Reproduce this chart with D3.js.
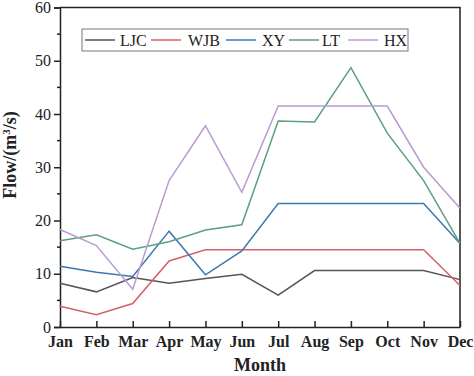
<!DOCTYPE html>
<html lang="en">
<head>
<meta charset="UTF-8">
<title>Monthly flow</title>
<script src="https://d3js.org/d3.v7.min.js"></script>
<style>
    body { margin: 0; background: #fff; }
    text { font-family: "Liberation Serif", "Times New Roman", serif; }
    .tick text { font-weight: bold; font-size: 16px; fill: #222; }
    .y-axis .tick text { font-weight: normal; font-size: 16px; }
    .axis-title { font-weight: bold; font-size: 18px; fill: #222; }
    .legend text { font-size: 16px; fill: #222; }
</style>
</head>
<body>
<svg id="chart"></svg>
<script>
    const months = ["Jan", "Feb", "Mar", "Apr", "May", "Jun", "Jul", "Aug", "Sep", "Oct", "Nov", "Dec"];
    const seriesNames = ["LJC", "WJB", "XY", "LT", "HX"];
    const seriesColors = ["#555555", "#d4606e", "#3b78b0", "#5c9e82", "#b89bd2"];

    const ljc = [8.2, 6.6, 9.3, 8.2, 9.1, 9.9, 6.0, 10.6, 10.6, 10.6, 10.6, 8.9];
    const wjb = [3.9, 2.3, 4.4, 12.4, 14.5, 14.5, 14.5, 14.5, 14.5, 14.5, 14.5, 7.8];
    const xy = [11.4, 10.3, 9.5, 18.0, 9.8, 14.3, 23.2, 23.2, 23.2, 23.2, 23.2, 15.7];
    const lt = [16.2, 17.3, 14.6, 16.0, 18.2, 19.2, 38.7, 38.5, 48.7, 36.4, 27.5, 15.7];
    const hx = [18.3, 15.3, 7.1, 27.5, 37.8, 25.3, 41.5, 41.5, 41.5, 41.5, 30.0, 22.3];
    const yTicks = [0, 10, 20, 30, 40, 50, 60];

    const allSeries = [ljc, wjb, xy, lt, hx];

    const width = 474, height = 376;
    const plotLeft = 60, plotRight = 460, plotTop = 7.5, plotBottom = 327;

    const svg = d3.select("#chart").attr("width", width).attr("height", height);

    const x = d3.scalePoint().domain(months).range([plotLeft, plotRight]);
    const y = d3.scaleLinear().domain([0, 60]).range([plotBottom, plotTop]);

    // frame top + right
    svg.append("path")
        .attr("d", `M${plotLeft},${plotTop}H${plotRight}V${plotBottom}`)
        .attr("fill", "none").attr("stroke", "#222").attr("stroke-width", 1.5);

    // y axis, ticks outward, minor every 5
    const yAxis = svg.append("g").attr("class", "y-axis")
        .attr("transform", `translate(${plotLeft},0)`)
        .call(d3.axisLeft(y).tickValues(yTicks).tickSize(6).tickPadding(3));
    yAxis.selectAll(".tick line").attr("stroke", "#222").attr("stroke-width", 1.5);
    yAxis.select(".domain").attr("stroke", "#222").attr("stroke-width", 1.5);
    svg.append("g").selectAll("line")
        .data(d3.range(5, 60, 10))
        .join("line")
        .attr("x1", plotLeft - 3).attr("x2", plotLeft)
        .attr("y1", d => y(d)).attr("y2", d => y(d))
        .attr("stroke", "#222").attr("stroke-width", 1.5);

    // x axis, ticks inward
    const xAxis = svg.append("g").attr("transform", `translate(0,${plotBottom})`)
        .call(d3.axisBottom(x).tickSizeInner(-6).tickSizeOuter(0).tickPadding(9));
    xAxis.selectAll(".tick line").attr("stroke", "#222").attr("stroke-width", 1.5);
    xAxis.select(".domain").attr("stroke", "#222").attr("stroke-width", 1.5);

    // lines
    const line = d3.line().x((d, i) => x(months[i])).y(d => y(d));
    svg.append("g").selectAll("path")
        .data(allSeries)
        .join("path")
        .attr("d", line)
        .attr("fill", "none")
        .attr("stroke", (d, i) => seriesColors[i])
        .attr("stroke-width", 1.5);

    // legend
    const legend = svg.append("g").attr("class", "legend");
    legend.append("rect")
        .attr("x", 82).attr("y", 29).attr("width", 326).attr("height", 22)
        .attr("fill", "#fff").attr("stroke", "#777").attr("stroke-width", 1);
    const legendX = [85, 151, 226, 289, 348];
    const labelGap = [35, 37, 36, 33, 36];
    seriesNames.forEach((name, i) => {
        legend.append("line")
            .attr("x1", legendX[i]).attr("x2", legendX[i] + 30)
            .attr("y1", 40).attr("y2", 40)
            .attr("stroke", seriesColors[i]).attr("stroke-width", 1.5);
        legend.append("text")
            .attr("x", legendX[i] + labelGap[i]).attr("y", 45.5)
            .text(name);
    });

    // axis titles
    svg.append("text").attr("class", "axis-title")
        .attr("x", (plotLeft + plotRight) / 2).attr("y", 371)
        .attr("text-anchor", "middle").text("Month");
    svg.append("text").attr("class", "axis-title")
        .attr("transform", "translate(16,155) rotate(-90)")
        .attr("text-anchor", "middle")
        .html('Flow/(m<tspan dy="-6" font-size="11">3</tspan><tspan dy="6">/s)</tspan>');
</script>
</body>
</html>
